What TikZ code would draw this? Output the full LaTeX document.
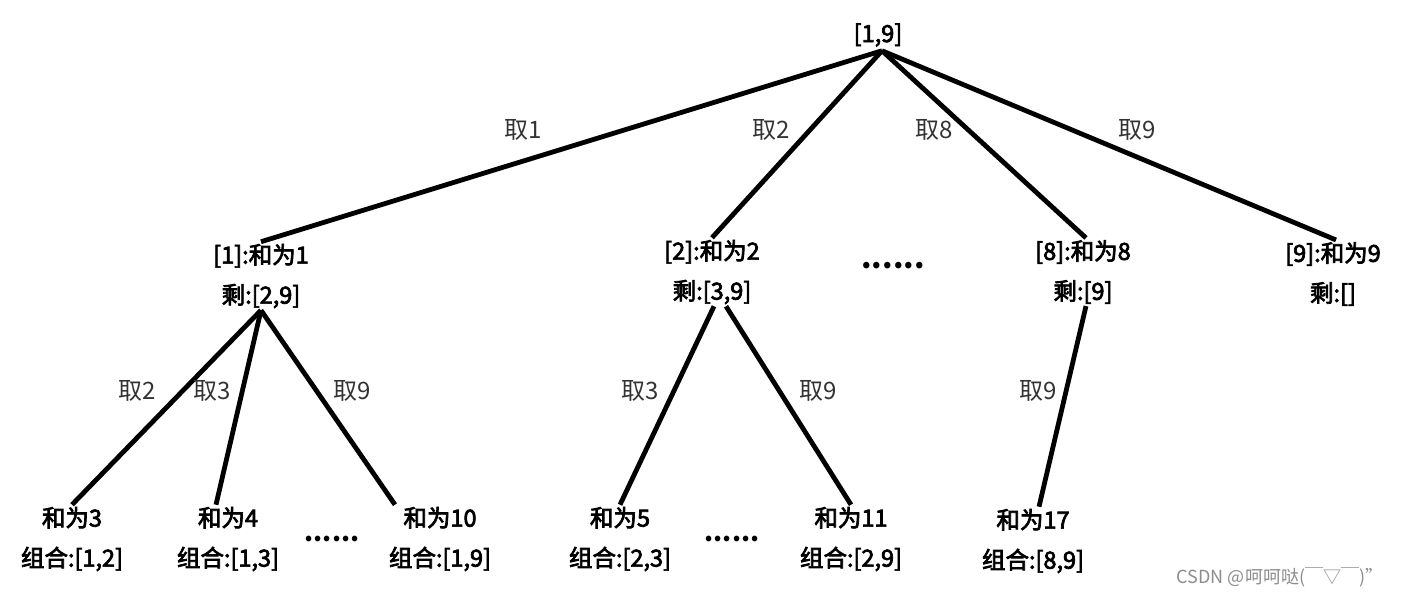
\documentclass[tikz,border=0pt]{standalone}
\usepackage{fontspec}
\setmainfont{Noto Sans CJK SC}
\newfontfamily\medfont[FakeBold=3]{Noto Sans CJK SC}
\usetikzlibrary{positioning}
\usepackage{xcolor}

\begin{document}
\begin{tikzpicture}[x=1pt, y=-1pt,
  state/.style={align=center, inner sep=2pt, font=\medfont\fontsize{23.5}{40}\selectfont},
  pick/.style={font=\fontsize{24}{26}\selectfont, text=black!80},
  more/.style={anchor=base, font=\fontsize{#1}{#1}\selectfont\bfseries},
  branch/.style={line width=4.8pt}]
  \useasboundingbox (0,0) rectangle (1401,596);
  % root
  \node[state] (root) at (878,35) {[1,9]};
  % first level
  \node[state] (s1) at (261,276) {[1]:和为1\\剩:[2,9]};
  \node[state] (s2) at (712,272) {[2]:和为2\\剩:[3,9]};
  \node[more=30] (dots1) at (893,269) {......};
  \node[state] (s8) at (1083,272) {[8]:和为8\\剩:[9]};
  \node[state] (s9) at (1333,274) {[9]:和为9\\剩:[]};
  \draw[branch] ([xshift=4pt,yshift=-2pt]root.south) -- (s1.north);
  \draw[branch] ([xshift=4pt,yshift=-2pt]root.south) -- (s2.north);
  \draw[branch] ([xshift=4pt,yshift=-2pt]root.south) -- ([xshift=3pt]s8.north);
  \draw[branch] ([xshift=4pt,yshift=-2pt]root.south) -- ([xshift=3pt]s9.north);
  \node[pick] (p1) at (523,130) {取1};
  \node[pick] (p2) at (771,130) {取2};
  \node[pick] (p8) at (934,130) {取8};
  \node[pick] (p9) at (1137,130) {取9};
  % second level
  \node[state] (c3) at (72,539) {和为3\\组合:[1,2]};
  \node[state] (c4) at (228,539) {和为4\\组合:[1,3]};
  \node[more=26] (dots2) at (332,541) {......};
  \node[state] (c10) at (440,539) {和为10\\组合:[1,9]};
  \node[state] (c5) at (620,539) {和为5\\组合:[2,3]};
  \node[more=26] (dots3) at (732,541) {......};
  \node[state] (c11) at (851,539) {和为11\\组合:[2,9]};
  \node[state] (c17) at (1033,541) {和为17\\组合:[8,9]};
  \draw[branch] (s1.south) -- (c3.north);
  \draw[branch] (s1.south) -- ([xshift=-12pt]c4.north);
  \draw[branch] (s1.south) -- ([xshift=-45pt]c10.north);
  \draw[branch] ([xshift=2pt]s2.south) -- (c5.north);
  \draw[branch] ([xshift=14pt]s2.south) -- (c11.north);
  \draw[branch] ([xshift=3pt]s8.south) -- ([xshift=6pt]c17.north);
  \node[pick] (q2) at (137,391) {取2};
  \node[pick] (q3) at (212,391) {取3};
  \node[pick] (q9) at (352,391) {取9};
  \node[pick] (r3) at (640,391) {取3};
  \node[pick] (r9) at (818,391) {取9};
  \node[pick] (t9) at (1038,391) {取9};
  % watermark
  \node[font=\fontsize{18}{20}\selectfont, text=black!45] (mark) at (1280,577) {CSDN @呵呵哒(￣▽￣)"};
\end{tikzpicture}
\end{document}
